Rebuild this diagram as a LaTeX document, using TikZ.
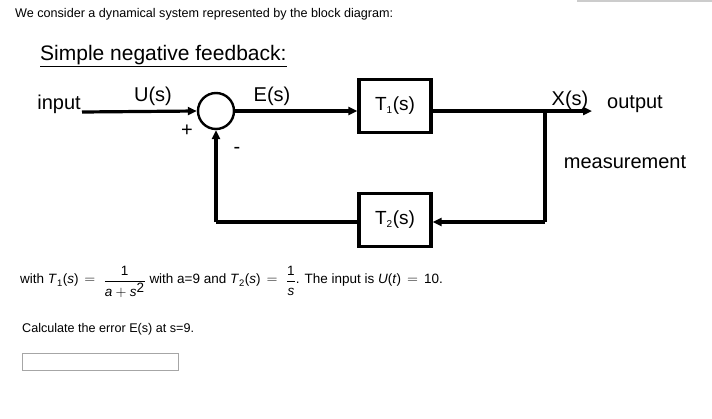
\documentclass[tikz,border=0pt]{standalone}
\usepackage{fontspec}
\setmainfont{Liberation Sans}
\usetikzlibrary{arrows.meta}
\begin{document}
\begin{tikzpicture}[x=1pt,y=-1pt,
  sig/.style={line width=3.2pt,-{Triangle[length=9pt,width=8pt]}},
  wire/.style={line width=3.2pt},
  blk/.style={draw,line width=3.2pt,minimum width=72pt,minimum height=53pt,font=\fontsize{19}{22}\selectfont},
  lab/.style={font=\fontsize{20}{22}\selectfont,inner sep=0pt},
  txt/.style={font=\fontsize{12.6}{14}\selectfont,inner sep=0pt,anchor=west}]
\useasboundingbox (0,0) rectangle (712,418);
\draw[gray!40,line width=1.2pt] (577,1) -- (712,1);
\node[txt] (t0) at (15,14) {We consider a dynamical system represented by the block diagram:};
\node[lab,anchor=west,font=\fontsize{21}{24}\selectfont] (title) at (40,56) {\underline{Simple negative feedback:}};
\node[lab,anchor=east] (in) at (81,104) {input};
\coordinate (inp) at (82,112);
\node[draw,circle,line width=2.4pt,minimum size=36pt,inner sep=0pt] (sum) at (216,111) {};
\node[blk] (T1) at (395,106) {T\textsubscript{\fontsize{10}{10}\selectfont 1}(s)};
\node[blk] (T2) at (395,220) {T\textsubscript{\fontsize{10}{10}\selectfont 2}(s)};
\coordinate (out) at (592,111);
\coordinate (br) at (545,111);
\coordinate (bd) at (545,222);
\coordinate (fl) at (216,222);
\draw[sig] (inp) -- (sum.west);
\draw[sig] (sum.east) -- (T1.west |- sum.east);
\draw[sig] (T1.east |- out) -- (out);
\draw[wire] (br) -- (bd);
\draw[sig] (bd) -- (T2.east |- bd);
\draw[wire] (T2.west |- fl) -- (fl);
\draw[sig] (fl) -- (sum.south);
\node[lab] (u) at (153,96) {U(s)};
\node[lab] (e) at (272,96) {E(s)};
\node[lab] (x) at (570,100) {X(s)};
\node[lab,anchor=west] (o) at (607,104) {output};
\node[lab] (m) at (625,162) {measurement};
\node[lab] (p) at (187,131) {+};
\node[lab] (mi) at (237,150) {-};
\node[txt,font=\fontsize{13.5}{15}\selectfont] (f) at (20,282) {with \textit{T}\textsubscript{1}(\textit{s}) \,$=$\,\, \raisebox{-0.2ex}{$\displaystyle\frac{\;\textrm{1}\;}{\textit{a}+\textit{s}^{\textrm{2}}}$} with a=9 and \textit{T}\textsubscript{2}(\textit{s}) \,$=$\,\, \raisebox{-0.2ex}{$\displaystyle\frac{\textrm{1}}{\textit{s}}$}. The input is \textit{U}(\textit{t}) \,$=$\, 10.};
\node[txt] (c) at (22,329) {Calculate the error E(s) at s=9.};
\node[draw=gray!70,line width=0.8pt,minimum width=156pt,minimum height=17pt,inner sep=0pt] (box) at (100,362) {};
\end{tikzpicture}
\end{document}
